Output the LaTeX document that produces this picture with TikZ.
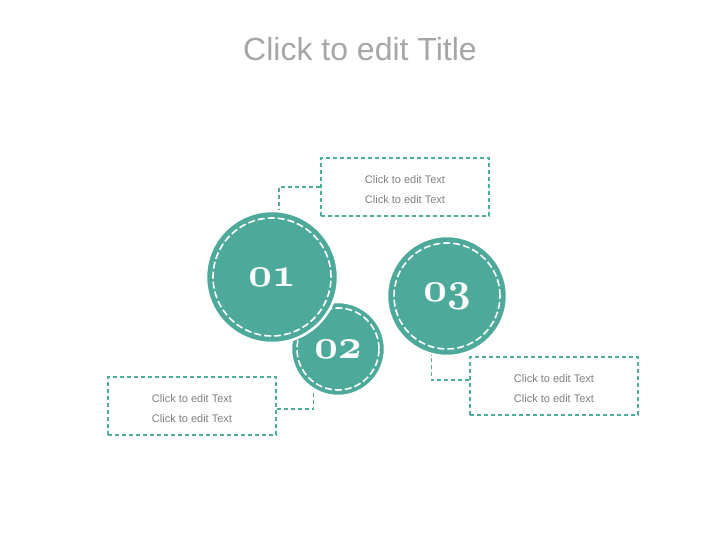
\documentclass[tikz,border=0pt]{standalone}
\usepackage{fontspec}
\usepackage{graphicx}
\setmainfont{Liberation Sans}
\definecolor{teal1}{HTML}{4DAA9A}
\definecolor{tealline}{HTML}{4FAB9C}
\definecolor{txtgray}{HTML}{7F7F7F}
\definecolor{titlegray}{HTML}{A6A6A6}
\newcommand\bignum[1]{\scalebox{1.65}{\fontsize{24.88}{24.88}\usefont{OML}{cmm}{b}{it}#1}}

\tikzset{disc/.style={circle, fill=teal1, draw=white, line width=2.5pt, inner sep=0pt, text=white},
         stitch/.style={draw=white, line width=1.6pt, dash pattern=on 7pt off 3pt},
         tb/.style={draw=tealline, line width=1.1pt, dash pattern=on 4pt off 3pt, minimum width=168pt,
                    minimum height=58pt, align=center, text=txtgray, font=\fontsize{11}{20}\selectfont},
         link/.style={draw=tealline, line width=1.1pt, dash pattern=on 4pt off 3pt}}

\begin{document}
\begin{tikzpicture}[x=1pt, y=-1pt]
    \useasboundingbox (0,0) rectangle (721,540);
    \node[text=titlegray, font=\fontsize{32}{32}\selectfont] (title) at (360,49) {Click to edit Title};

    % circles
    \node[disc, minimum size=94pt] (c2) at (338,349) {\bignum{02}};
    \draw[stitch] (c2.center) circle (41pt);
    \node[disc, minimum size=132pt] (c1) at (272,277) {\bignum{01}};
    \draw[stitch] (c1.center) circle (59pt);
    \node[disc, minimum size=120pt] (c3) at (447,296) {\bignum{03}};
    \draw[stitch] (c3.center) circle (53pt);

    % text boxes
    \node[tb] (box1) at (405,187) {\rule{0pt}{14pt}Click to edit Text\\Click to edit Text};
    \node[tb] (box2) at (192,406) {\rule{0pt}{14pt}Click to edit Text\\Click to edit Text};
    \node[tb] (box3) at (554,386) {\rule{0pt}{14pt}Click to edit Text\\Click to edit Text};

    \draw[link] (box1.west) -| (c1.84);
    \draw[link] ([yshift=-3pt]box2.east) -| (c2.240);
    \draw[link] ([yshift=6pt]box3.west) -| (c3.255);
\end{tikzpicture}
\end{document}
